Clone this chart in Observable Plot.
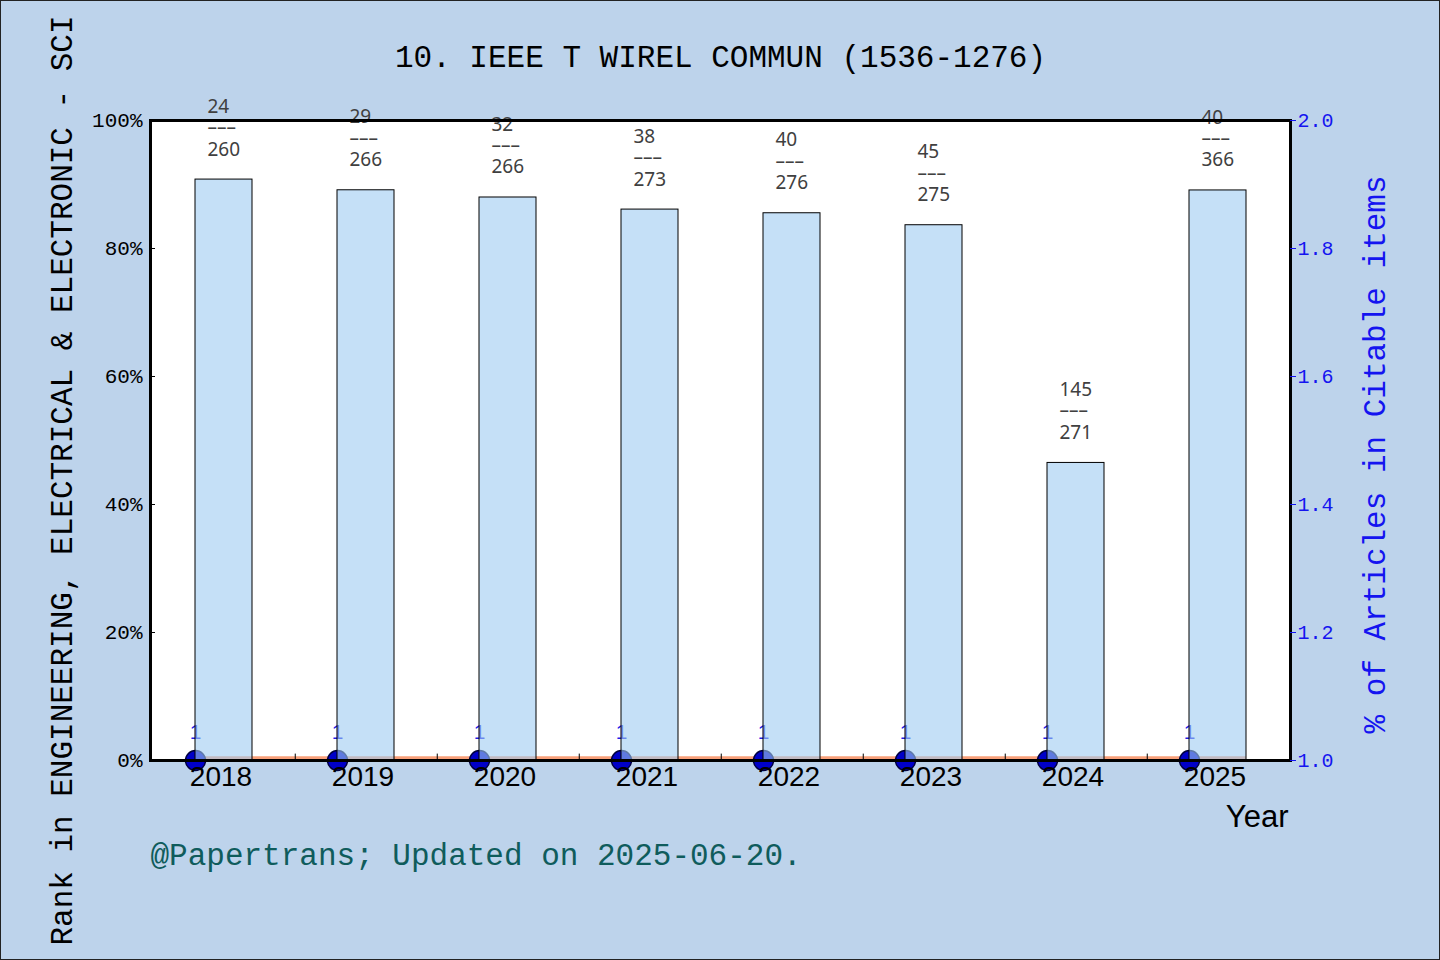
<!DOCTYPE html>
<html>
<head>
<meta charset="utf-8">
<script src="https://cdn.jsdelivr.net/npm/d3@7"></script>
<script src="https://cdn.jsdelivr.net/npm/@observablehq/plot@0.6"></script>
<style>
  html, body { margin: 0; padding: 0; background: #BDD3EB; }
  #chart svg { display: block; outline: 1px solid #222; outline-offset: -1px; }
</style>
</head>
<body>
<div id="chart"></div>
<script>
const title = "10. IEEE T WIREL COMMUN (1536-1276)";
const yLabel = "Rank in ENGINEERING, ELECTRICAL & ELECTRONIC - SCI";
const y2Label = "% of Articles in Citable items";
const xLabel = "Year";
const footer = "@Papertrans; Updated on 2025-06-20.";

const years = ["2018", "2019", "2020", "2021", "2022", "2023", "2024", "2025"];
const ranks = [24, 29, 32, 38, 40, 45, 145, 40];
const totals = [260, 266, 266, 273, 276, 275, 271, 366];
const citable = [1, 1, 1, 1, 1, 1, 1, 1];
const leftTicks = [0, 20, 40, 60, 80, 100];
const rightTicks = [1.0, 1.2, 1.4, 1.6, 1.8, 2.0];

const data = years.map((year, i) => ({
  year,
  rank: ranks[i],
  total: totals[i],
  pct: (1 - ranks[i] / totals[i]) * 100,
  citable: citable[i]
}));

const mono = "Liberation Mono, DejaVu Sans Mono, monospace";
const sans = "Liberation Sans, Arial, sans-serif";
const blue = "#1414F0";
const y2 = v => (v - 1) * 100; // right axis 1.0–2.0 mapped onto the 0–100 scale
const step = 1140 / 8;

const chart = Plot.plot({
  width: 1440,
  height: 960,
  marginLeft: 150,
  marginRight: 150,
  marginTop: 120,
  marginBottom: 200,
  style: { background: "#BDD3EB", overflow: "visible" },
  x: { type: "band", domain: years, paddingInner: 0.6, paddingOuter: 0.3, axis: null },
  y: { domain: [0, 100], axis: null },
  marks: [
    Plot.frame({ fill: "white", stroke: "none" }),
    // salmon baseline series
    Plot.ruleY([0.35], { x1: () => years[0], x2: () => years[years.length - 1], stroke: "#F8A07A", strokeWidth: 4 }),
    // citable markers
    Plot.dot(data, { x: "year", y: d => y2(d.citable), r: 10, fill: "#0000C8", stroke: "#000040", strokeWidth: 1.5, dx: -28.5 }),
    Plot.text(data, { x: "year", y: d => y2(d.citable), text: d => String(d.citable), dx: -28.5, dy: -28, fill: "#1E1EE8", fontSize: 21, fontFamily: sans }),
    // bars
    Plot.barY(data, { x: "year", y: "pct", fill: "#9ECBF2", fillOpacity: 0.6, stroke: "#000", strokeWidth: 1 }),
    Plot.text(data, {
      x: "year", y: "pct",
      text: d => `${d.rank}\n–––\n${d.total}`,
      textAnchor: "start", dx: -16.5, lineAnchor: "bottom", dy: -24,
      lineHeight: 1.13, fontSize: 19, fill: "#404040", fontFamily: "Noto Sans, sans-serif"
    }),
    // frame
    Plot.frame({ stroke: "#000", strokeWidth: 3 }),
    // bottom minor ticks at band boundaries
    Plot.ruleX(years.slice(0, -1), { x: d => d, dx: step / 2, y1: 0, y2: 1, stroke: "#000", strokeWidth: 1 }),
    // left axis ticks + labels
    Plot.ruleY(leftTicks.slice(1, -1), { y: d => d, insetRight: 1135, stroke: "#000", strokeWidth: 1 }),
    Plot.text(leftTicks, { y: d => d, text: d => d + "%", frameAnchor: "left", dx: -8, textAnchor: "end", lineAnchor: "middle", fontSize: 21, fontFamily: mono, fill: "#000" }),
    // right axis ticks + labels
    Plot.ruleY(rightTicks, { y: d => y2(d), insetLeft: 1140, insetRight: -6, stroke: blue, strokeWidth: 1 }),
    Plot.text(rightTicks, { y: d => y2(d), text: d => d.toFixed(1), frameAnchor: "right", dx: 7, textAnchor: "start", lineAnchor: "middle", fontSize: 20, fontFamily: mono, fill: blue }),
    // x labels
    Plot.text(years, { x: d => d, text: d => d, frameAnchor: "bottom", dx: -3, dy: 17, lineAnchor: "middle", fontSize: 28, fontFamily: sans, fill: "#000" }),
    Plot.text([xLabel], { text: d => d, frameAnchor: "bottom-right", dx: -2, dy: 57, textAnchor: "end", lineAnchor: "middle", fontSize: 31, fontFamily: sans, fill: "#000" }),
    // title, axis titles, footer
    Plot.text([title], { text: d => d, frameAnchor: "top", dy: -63, lineAnchor: "middle", textAnchor: "middle", fontSize: 31, fontFamily: mono, fill: "#000" }),
    Plot.text([yLabel], { text: d => d, frameAnchor: "left", dx: -88, dy: 40, rotate: -90, textAnchor: "middle", lineAnchor: "middle", fontSize: 31, fontFamily: mono, fill: "#000" }),
    Plot.text([y2Label], { text: d => d, frameAnchor: "right", dx: 85, dy: 14, rotate: -90, textAnchor: "middle", lineAnchor: "middle", fontSize: 31, fontFamily: mono, fill: blue }),
    Plot.text([footer], { text: d => d, frameAnchor: "bottom-left", dy: 95, textAnchor: "start", lineAnchor: "middle", fontSize: 31, fontFamily: mono, fill: "#0F5C5C" })
  ]
});
document.getElementById("chart").appendChild(chart);
</script>
</body>
</html>
